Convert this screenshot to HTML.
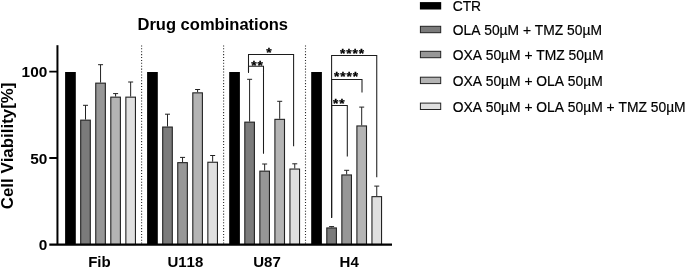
<!DOCTYPE html>
<html><head><meta charset="utf-8"><title>Drug combinations</title>
<style>
html,body{margin:0;padding:0;background:#fff;}
svg{display:block}
text{font-kerning:none;font-family:"Liberation Sans",Arial,Helvetica,sans-serif;fill:#000}
.b{font-weight:bold}
</style></head><body>
<svg width="685" height="269" viewBox="0 0 685 269">
<rect width="685" height="269" fill="#fff"/>
<line x1="141.6" y1="45.4" x2="141.6" y2="243.5" stroke="#2a2a2a" stroke-width="1.1" stroke-dasharray="1.05 1.85"/>
<line x1="223.6" y1="45.4" x2="223.6" y2="243.5" stroke="#2a2a2a" stroke-width="1.1" stroke-dasharray="1.05 1.85"/>
<line x1="305.5" y1="45.4" x2="305.5" y2="243.5" stroke="#2a2a2a" stroke-width="1.1" stroke-dasharray="1.05 1.85"/>
<rect x="65.10" y="72.00" width="10.7" height="172.50" fill="#000"/>
<path d="M85.50 119.60V105.30M83.00 105.30H88.00" stroke="#222" stroke-width="1" fill="none"/>
<rect x="80.70" y="120.15" width="9.60" height="124.35" fill="#7b7b7b" stroke="#222" stroke-width="1.1"/>
<path d="M100.55 82.60V64.70M98.05 64.70H103.05" stroke="#222" stroke-width="1" fill="none"/>
<rect x="95.75" y="83.15" width="9.60" height="161.35" fill="#979797" stroke="#222" stroke-width="1.1"/>
<path d="M115.60 96.60V93.60M113.10 93.60H118.10" stroke="#222" stroke-width="1" fill="none"/>
<rect x="110.80" y="97.15" width="9.60" height="147.35" fill="#b4b4b4" stroke="#222" stroke-width="1.1"/>
<path d="M130.65 96.60V82.00M128.15 82.00H133.15" stroke="#222" stroke-width="1" fill="none"/>
<rect x="125.85" y="97.15" width="9.60" height="147.35" fill="#dfdfdf" stroke="#222" stroke-width="1.1"/>
<rect x="147.10" y="72.00" width="10.7" height="172.50" fill="#000"/>
<path d="M167.50 126.50V114.20M165.00 114.20H170.00" stroke="#222" stroke-width="1" fill="none"/>
<rect x="162.70" y="127.05" width="9.60" height="117.45" fill="#7b7b7b" stroke="#222" stroke-width="1.1"/>
<path d="M182.55 162.10V157.40M180.05 157.40H185.05" stroke="#222" stroke-width="1" fill="none"/>
<rect x="177.75" y="162.65" width="9.60" height="81.85" fill="#979797" stroke="#222" stroke-width="1.1"/>
<path d="M197.60 92.30V89.50M195.10 89.50H200.10" stroke="#222" stroke-width="1" fill="none"/>
<rect x="192.80" y="92.85" width="9.60" height="151.65" fill="#b4b4b4" stroke="#222" stroke-width="1.1"/>
<path d="M212.65 161.70V155.50M210.15 155.50H215.15" stroke="#222" stroke-width="1" fill="none"/>
<rect x="207.85" y="162.25" width="9.60" height="82.25" fill="#dfdfdf" stroke="#222" stroke-width="1.1"/>
<rect x="229.20" y="72.00" width="10.7" height="172.50" fill="#000"/>
<path d="M249.60 121.60V79.30M247.10 79.30H252.10" stroke="#222" stroke-width="1" fill="none"/>
<rect x="244.80" y="122.15" width="9.60" height="122.35" fill="#7b7b7b" stroke="#222" stroke-width="1.1"/>
<path d="M264.65 170.60V164.00M262.15 164.00H267.15" stroke="#222" stroke-width="1" fill="none"/>
<rect x="259.85" y="171.15" width="9.60" height="73.35" fill="#979797" stroke="#222" stroke-width="1.1"/>
<path d="M279.70 118.80V101.30M277.20 101.30H282.20" stroke="#222" stroke-width="1" fill="none"/>
<rect x="274.90" y="119.35" width="9.60" height="125.15" fill="#b4b4b4" stroke="#222" stroke-width="1.1"/>
<path d="M294.75 168.50V163.80M292.25 163.80H297.25" stroke="#222" stroke-width="1" fill="none"/>
<rect x="289.95" y="169.05" width="9.60" height="75.45" fill="#dfdfdf" stroke="#222" stroke-width="1.1"/>
<rect x="311.20" y="72.00" width="10.7" height="172.50" fill="#000"/>
<path d="M331.60 227.40V226.60M329.10 226.60H334.10" stroke="#222" stroke-width="1" fill="none"/>
<rect x="326.80" y="227.95" width="9.60" height="16.55" fill="#7b7b7b" stroke="#222" stroke-width="1.1"/>
<path d="M346.65 174.40V170.30M344.15 170.30H349.15" stroke="#222" stroke-width="1" fill="none"/>
<rect x="341.85" y="174.95" width="9.60" height="69.55" fill="#979797" stroke="#222" stroke-width="1.1"/>
<path d="M361.70 125.40V107.10M359.20 107.10H364.20" stroke="#222" stroke-width="1" fill="none"/>
<rect x="356.90" y="125.95" width="9.60" height="118.55" fill="#b4b4b4" stroke="#222" stroke-width="1.1"/>
<path d="M376.75 196.10V186.10M374.25 186.10H379.25" stroke="#222" stroke-width="1" fill="none"/>
<rect x="371.95" y="196.65" width="9.60" height="47.85" fill="#dfdfdf" stroke="#222" stroke-width="1.1"/>
<path d="M248.5 72.8V54.5H293.6V146.3" stroke="#1c1c1c" stroke-width="1.05" fill="none"/>
<path d="M248.5 72.8V66.2H263.5V153.7" stroke="#1c1c1c" stroke-width="1.05" fill="none"/>
<path d="M331.6 217.7V55.55H376.75V177.2" stroke="#1c1c1c" stroke-width="1.05" fill="none"/>
<path d="M331.6 217.7V79.4H362.0V92.5" stroke="#1c1c1c" stroke-width="1.05" fill="none"/>
<path d="M331.6 217.7V105.4H347.3V156.6" stroke="#1c1c1c" stroke-width="1.05" fill="none"/>
<text class="b" x="266.13" y="57.4" font-size="13.7" letter-spacing="0.921" stroke="#000" stroke-width="0.3">*</text>
<text class="b" x="251.20" y="69.75" font-size="13.7" letter-spacing="0.921" stroke="#000" stroke-width="0.3">**</text>
<text class="b" x="340.05" y="58.15" font-size="13.7" letter-spacing="0.921" stroke="#000" stroke-width="0.3">****</text>
<text class="b" x="333.95" y="81.25" font-size="13.7" letter-spacing="0.921" stroke="#000" stroke-width="0.3">****</text>
<text class="b" x="333.10" y="108.45" font-size="13.7" letter-spacing="0.921" stroke="#000" stroke-width="0.3">**</text>
<path d="M57.45 45.2V244.5" stroke="#000" stroke-width="2" fill="none"/>
<path d="M49.3 244.6H392" stroke="#000" stroke-width="2.2" fill="none"/>
<path d="M49.3 71.6H57M49.3 158.0H57" stroke="#000" stroke-width="1.8" fill="none"/>
<text class="b" x="47.3" y="77.0" font-size="15.4" text-anchor="end">100</text>
<text class="b" x="47.3" y="163.5" font-size="15.4" text-anchor="end">50</text>
<text class="b" x="47.3" y="250.3" font-size="15.4" text-anchor="end">0</text>
<text class="b" x="99.45" y="267.1" font-size="15" text-anchor="middle">Fib</text>
<text class="b" x="185.35" y="267.1" font-size="15" text-anchor="middle">U118</text>
<text class="b" x="267.0" y="267.2" font-size="15" text-anchor="middle">U87</text>
<text class="b" x="349.2" y="266.8" font-size="15" text-anchor="middle">H4</text>
<text class="b" x="212.75" y="29.9" font-size="16.55" text-anchor="middle">Drug combinations</text>
<text class="b" transform="translate(13.2 145.9) rotate(-90)" font-size="16.9" text-anchor="middle">Cell Viability[%]</text>
<rect x="419.9" y="2.10" width="21.3" height="7.4" fill="#000"/>
<text x="452.7" y="10.70" font-size="13.84" stroke="#000" stroke-width="0.2">CTR</text>
<rect x="420.4" y="26.30" width="20.3" height="6.4" fill="#7b7b7b" stroke="#222" stroke-width="1"/>
<text x="452.7" y="34.70" font-size="13.84" stroke="#000" stroke-width="0.2">OLA 50µM + TMZ 50µM</text>
<rect x="420.4" y="51.30" width="20.3" height="6.4" fill="#979797" stroke="#222" stroke-width="1"/>
<text x="452.7" y="59.70" font-size="13.84" stroke="#000" stroke-width="0.2">OXA 50µM + TMZ 50µM</text>
<rect x="420.4" y="77.20" width="20.3" height="6.4" fill="#b4b4b4" stroke="#222" stroke-width="1"/>
<text x="452.7" y="85.60" font-size="13.84" stroke="#000" stroke-width="0.2">OXA 50µM + OLA 50µM</text>
<rect x="420.4" y="103.10" width="20.3" height="6.4" fill="#dfdfdf" stroke="#222" stroke-width="1"/>
<text x="452.7" y="111.70" font-size="13.84" stroke="#000" stroke-width="0.2">OXA 50µM + OLA 50µM + TMZ 50µM</text>
</svg>
</body></html>
